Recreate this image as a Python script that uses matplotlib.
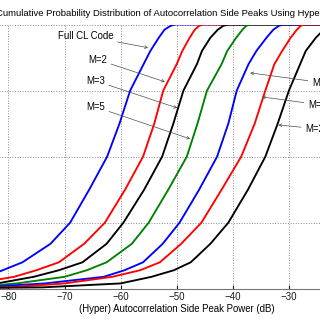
import matplotlib
matplotlib.use("Agg")
import matplotlib.pyplot as plt

plt.rcParams['font.family'] = ['Liberation Sans', 'DejaVu Sans']

# probability levels shared by all curves
prob = [0.0, 0.005, 0.02, 0.045, 0.07, 0.1, 0.17, 0.25, 0.375, 0.5,
        0.625, 0.75, 0.85, 0.9, 0.95, 0.98, 0.995, 1.0, 1.0]

# side peak power (dB) at each level
full_cl = [-100, -92, -88, -84, -81, -77.5, -72.5, -69.0, -65.6, -62.4,
           -60.2, -58.3, -55.9, -54.7, -53.2, -52.2, -51.1, -50.3, -10]
m2 = [-100, -91, -86, -79, -75, -71, -66.5, -62.8, -59.2, -56.0,
      -54.0, -52.4, -50.0, -49.0, -47.7, -46.8, -46.0, -45.3, -10]
m3 = [-100, -89, -82, -75.5, -71, -66.8, -62.5, -59.5, -55.8, -52.6,
      -50.6, -48.8, -46.4, -45.5, -44.0, -42.7, -41.7, -40.8, -10]
m5 = [-100, -87, -78.5, -70, -66, -62.5, -58, -55.0, -51.5, -48.2,
      -46.3, -44.6, -42.0, -41.0, -39.4, -38.3, -37.6, -36.9, -10]
m10 = [-100, -85, -73.5, -63, -59.3, -56, -52.5, -49.5, -46.0, -42.8,
       -40.8, -39.3, -37.2, -35.8, -34.0, -32.8, -31.8, -31.0, -10]
m15 = [-100, -80, -70, -61.5, -56.5, -53, -49.2, -45.6, -42.0, -38.5,
       -36.1, -34.2, -32.6, -31.2, -29.7, -28.6, -27.9, -27.3, -10]
m20 = [-100, -74, -60, -54.5, -50.5, -47.5, -44, -40.8, -37.3, -34.2,
       -32.0, -30.0, -28.0, -27.0, -25.2, -23.8, -22.8, -22.0, -10]

x_ticks = [-90, -80, -70, -60, -50, -40, -30, -20, -10]
y_ticks = [0, 0.25, 0.5, 0.75, 1.0]

fig = plt.figure(figsize=(3.2, 3.2), dpi=100)
ax = fig.add_axes([-0.149, 0.0978, 1.4025, 0.8256])

lw = 1.35
ax.plot(full_cl, prob, color='#0000ff', lw=lw)
ax.plot(m2, prob, color='#ff0000', lw=lw)
ax.plot(m3, prob, color='black', lw=lw)
ax.plot(m5, prob, color='#008000', lw=lw)
ax.plot(m10, prob, color='#0000ff', lw=lw)
ax.plot(m15, prob, color='#ff0000', lw=lw)
ax.plot(m20, prob, color='black', lw=lw)

ax.set_xlim(-90, -10)
ax.set_ylim(0, 1)
ax.set_xticks(x_ticks)
ax.set_yticks(y_ticks)
ax.grid(True, linestyle=':', color='0.55', lw=0.7)
ax.tick_params(direction='in', length=3, labelsize=7, pad=2.5, colors='0.1')
for s in ['top', 'right', 'left']:
    ax.spines[s].set_visible(False)
ax.spines['bottom'].set_color('0.45')
ax.set_xlabel('(Hyper) Autocorrelation Side Peak Power (dB)', fontsize=6.9, labelpad=1)

fig.text(0.552, 0.958,
         'Cumulative Probability Distribution of Autocorrelation Side Peaks Using Hyperbolic CL',
         ha='center', va='center', fontsize=6.8)

arrow = dict(arrowstyle='->', lw=0.5, color='0.3', shrinkA=1, shrinkB=0,
             mutation_scale=5)
ax.annotate('Full CL Code', xy=(-55.1, 0.912), xytext=(-61.3, 0.957),
            ha='right', va='center', fontsize=6.9, arrowprops=arrow)
ax.annotate('M=2', xy=(-52.1, 0.783), xytext=(-62.4, 0.867),
            ha='right', va='center', fontsize=6.9, arrowprops=arrow)
ax.annotate('M=3', xy=(-49.9, 0.684), xytext=(-62.8, 0.787),
            ha='right', va='center', fontsize=6.9, arrowprops=arrow)
ax.annotate('M=5', xy=(-47.6, 0.567), xytext=(-62.8, 0.688),
            ha='right', va='center', fontsize=6.9, arrowprops=arrow)
ax.annotate('M=10', xy=(-36.9, 0.817), xytext=(-25.9, 0.779),
            ha='left', va='center', fontsize=6.9, arrowprops=arrow)
ax.annotate('M=15', xy=(-34.8, 0.726), xytext=(-26.6, 0.696),
            ha='left', va='center', fontsize=6.9, arrowprops=arrow)
ax.annotate('M=20', xy=(-31.9, 0.62), xytext=(-27.1, 0.605),
            ha='left', va='center', fontsize=6.9, arrowprops=arrow)

fig.savefig('out.png', dpi=100)
